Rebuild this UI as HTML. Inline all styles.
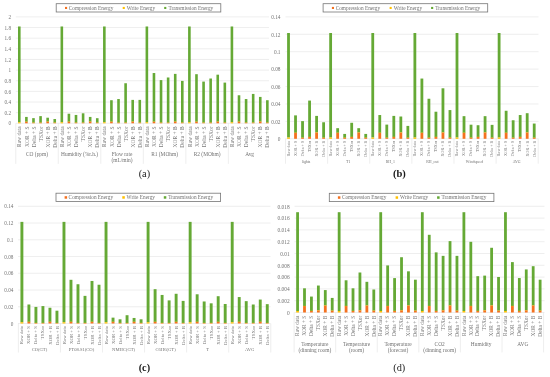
<!DOCTYPE html>
<html lang="en"><head><meta charset="utf-8"><title>Energy charts</title>
<style>html,body{margin:0;padding:0;background:#fff}svg{display:block}text{font-family:"Liberation Serif", serif}</style></head><body>
<svg width="550" height="377" viewBox="0 0 550 377">
<rect width="550" height="377" fill="#fff"/>
<g style="filter:blur(0.3px)">
<defs>
<clipPath id="cla"><rect x="0" y="0" width="269" height="190"/></clipPath>
<clipPath id="clb"><rect x="269" y="0" width="281" height="190"/></clipPath>
<clipPath id="clc"><rect x="0" y="188" width="275" height="189"/></clipPath>
<clipPath id="cld"><rect x="273" y="188" width="277" height="189"/></clipPath>
</defs>
<g clip-path="url(#cla)">
<line x1="15.8" x2="271" y1="123.3" y2="123.3" stroke="#dfdfdf" stroke-width="0.55"/>
<text x="11" y="125.47" font-size="5.2" fill="#727272" text-anchor="end">0</text>
<line x1="15.8" x2="271" y1="112.66" y2="112.66" stroke="#dfdfdf" stroke-width="0.55"/>
<text x="11" y="114.83" font-size="5.2" fill="#727272" text-anchor="end">0.2</text>
<line x1="15.8" x2="271" y1="102.02" y2="102.02" stroke="#dfdfdf" stroke-width="0.55"/>
<text x="11" y="104.19" font-size="5.2" fill="#727272" text-anchor="end">0.4</text>
<line x1="15.8" x2="271" y1="91.38" y2="91.38" stroke="#dfdfdf" stroke-width="0.55"/>
<text x="11" y="93.55" font-size="5.2" fill="#727272" text-anchor="end">0.6</text>
<line x1="15.8" x2="271" y1="80.74" y2="80.74" stroke="#dfdfdf" stroke-width="0.55"/>
<text x="11" y="82.91" font-size="5.2" fill="#727272" text-anchor="end">0.8</text>
<line x1="15.8" x2="271" y1="70.1" y2="70.1" stroke="#dfdfdf" stroke-width="0.55"/>
<text x="11" y="72.27" font-size="5.2" fill="#727272" text-anchor="end">1</text>
<line x1="15.8" x2="271" y1="59.46" y2="59.46" stroke="#dfdfdf" stroke-width="0.55"/>
<text x="11" y="61.63" font-size="5.2" fill="#727272" text-anchor="end">1.2</text>
<line x1="15.8" x2="271" y1="48.82" y2="48.82" stroke="#dfdfdf" stroke-width="0.55"/>
<text x="11" y="50.99" font-size="5.2" fill="#727272" text-anchor="end">1.4</text>
<line x1="15.8" x2="271" y1="38.18" y2="38.18" stroke="#dfdfdf" stroke-width="0.55"/>
<text x="11" y="40.35" font-size="5.2" fill="#727272" text-anchor="end">1.6</text>
<line x1="15.8" x2="271" y1="27.54" y2="27.54" stroke="#dfdfdf" stroke-width="0.55"/>
<text x="11" y="29.71" font-size="5.2" fill="#727272" text-anchor="end">1.8</text>
<line x1="15.8" x2="271" y1="16.9" y2="16.9" stroke="#dfdfdf" stroke-width="0.55"/>
<text x="11" y="19.07" font-size="5.2" fill="#727272" text-anchor="end">2</text>
<line x1="15.76" x2="15.76" y1="123.3" y2="163.8" stroke="#dfdfdf" stroke-width="0.55"/>
<line x1="58.28" x2="58.28" y1="123.3" y2="163.8" stroke="#dfdfdf" stroke-width="0.55"/>
<line x1="100.8" x2="100.8" y1="123.3" y2="163.8" stroke="#dfdfdf" stroke-width="0.55"/>
<line x1="143.33" x2="143.33" y1="123.3" y2="163.8" stroke="#dfdfdf" stroke-width="0.55"/>
<line x1="185.85" x2="185.85" y1="123.3" y2="163.8" stroke="#dfdfdf" stroke-width="0.55"/>
<line x1="228.37" x2="228.37" y1="123.3" y2="163.8" stroke="#dfdfdf" stroke-width="0.55"/>
<line x1="270.89" x2="270.89" y1="123.3" y2="163.8" stroke="#dfdfdf" stroke-width="0.55"/>
<rect x="18" y="26.48" width="2.6" height="95.76" fill="#65a935"/>
<rect x="18" y="122.24" width="2.6" height="1.06" fill="#ffc000"/>
<text transform="translate(21.41 126.4) rotate(-90)" font-size="5.5" fill="#7b7b7b" text-anchor="end">Raw data</text>
<rect x="25.09" y="116.92" width="2.6" height="4.89" fill="#65a935"/>
<rect x="25.09" y="121.81" width="2.6" height="1.49" fill="#f4711f"/>
<rect x="25.09" y="121.66" width="2.6" height="0.3" fill="#ffc000"/>
<text transform="translate(28.5 126.4) rotate(-90)" font-size="5.5" fill="#7b7b7b" text-anchor="end">XOR + S</text>
<rect x="32.18" y="118.14" width="2.6" height="4.63" fill="#65a935"/>
<rect x="32.18" y="122.77" width="2.6" height="0.53" fill="#f4711f"/>
<rect x="32.18" y="122.62" width="2.6" height="0.3" fill="#ffc000"/>
<text transform="translate(35.59 126.4) rotate(-90)" font-size="5.5" fill="#7b7b7b" text-anchor="end">Delta + S</text>
<rect x="39.26" y="116.12" width="2.6" height="6.65" fill="#65a935"/>
<rect x="39.26" y="122.77" width="2.6" height="0.53" fill="#f4711f"/>
<rect x="39.26" y="122.62" width="2.6" height="0.3" fill="#ffc000"/>
<text transform="translate(42.67 126.4) rotate(-90)" font-size="5.5" fill="#7b7b7b" text-anchor="end">TSXor</text>
<rect x="46.35" y="117.71" width="2.6" height="3.99" fill="#65a935"/>
<rect x="46.35" y="121.7" width="2.6" height="1.6" fill="#f4711f"/>
<rect x="46.35" y="121.55" width="2.6" height="0.3" fill="#ffc000"/>
<text transform="translate(49.76 126.4) rotate(-90)" font-size="5.5" fill="#7b7b7b" text-anchor="end">XOR + B</text>
<rect x="53.44" y="119.04" width="2.6" height="3.72" fill="#65a935"/>
<rect x="53.44" y="122.77" width="2.6" height="0.53" fill="#f4711f"/>
<rect x="53.44" y="122.62" width="2.6" height="0.3" fill="#ffc000"/>
<text transform="translate(56.85 126.4) rotate(-90)" font-size="5.5" fill="#7b7b7b" text-anchor="end">Delta + B</text>
<text x="37.02" y="155.72" font-size="5.4" fill="#727272" text-anchor="middle">CO (ppm)</text>
<rect x="60.53" y="26.48" width="2.6" height="95.76" fill="#65a935"/>
<rect x="60.53" y="122.24" width="2.6" height="1.06" fill="#ffc000"/>
<text transform="translate(63.94 126.4) rotate(-90)" font-size="5.5" fill="#7b7b7b" text-anchor="end">Raw data</text>
<rect x="67.61" y="113.72" width="2.6" height="8.09" fill="#65a935"/>
<rect x="67.61" y="121.81" width="2.6" height="1.49" fill="#f4711f"/>
<rect x="67.61" y="121.66" width="2.6" height="0.3" fill="#ffc000"/>
<text transform="translate(71.02 126.4) rotate(-90)" font-size="5.5" fill="#7b7b7b" text-anchor="end">XOR + S</text>
<rect x="74.7" y="114.95" width="2.6" height="7.82" fill="#65a935"/>
<rect x="74.7" y="122.77" width="2.6" height="0.53" fill="#f4711f"/>
<rect x="74.7" y="122.62" width="2.6" height="0.3" fill="#ffc000"/>
<text transform="translate(78.11 126.4) rotate(-90)" font-size="5.5" fill="#7b7b7b" text-anchor="end">Delta + S</text>
<rect x="81.79" y="113.3" width="2.6" height="9.47" fill="#65a935"/>
<rect x="81.79" y="122.77" width="2.6" height="0.53" fill="#f4711f"/>
<rect x="81.79" y="122.62" width="2.6" height="0.3" fill="#ffc000"/>
<text transform="translate(85.2 126.4) rotate(-90)" font-size="5.5" fill="#7b7b7b" text-anchor="end">TSXor</text>
<rect x="88.87" y="116.92" width="2.6" height="4.79" fill="#65a935"/>
<rect x="88.87" y="121.7" width="2.6" height="1.6" fill="#f4711f"/>
<rect x="88.87" y="121.55" width="2.6" height="0.3" fill="#ffc000"/>
<text transform="translate(92.28 126.4) rotate(-90)" font-size="5.5" fill="#7b7b7b" text-anchor="end">XOR + B</text>
<rect x="95.96" y="118.19" width="2.6" height="4.58" fill="#65a935"/>
<rect x="95.96" y="122.77" width="2.6" height="0.53" fill="#f4711f"/>
<rect x="95.96" y="122.62" width="2.6" height="0.3" fill="#ffc000"/>
<text transform="translate(99.37 126.4) rotate(-90)" font-size="5.5" fill="#7b7b7b" text-anchor="end">Delta + B</text>
<text x="79.54" y="155.72" font-size="5.4" fill="#727272" text-anchor="middle">Humidity (%r.h.)</text>
<rect x="103.05" y="26.48" width="2.6" height="95.76" fill="#65a935"/>
<rect x="103.05" y="122.24" width="2.6" height="1.06" fill="#ffc000"/>
<text transform="translate(106.46 126.4) rotate(-90)" font-size="5.5" fill="#7b7b7b" text-anchor="end">Raw data</text>
<rect x="110.13" y="100.21" width="2.6" height="21.6" fill="#65a935"/>
<rect x="110.13" y="121.81" width="2.6" height="1.49" fill="#f4711f"/>
<rect x="110.13" y="121.66" width="2.6" height="0.3" fill="#ffc000"/>
<text transform="translate(113.54 126.4) rotate(-90)" font-size="5.5" fill="#7b7b7b" text-anchor="end">XOR + S</text>
<rect x="117.22" y="99.04" width="2.6" height="23.73" fill="#65a935"/>
<rect x="117.22" y="122.77" width="2.6" height="0.53" fill="#f4711f"/>
<rect x="117.22" y="122.62" width="2.6" height="0.3" fill="#ffc000"/>
<text transform="translate(120.63 126.4) rotate(-90)" font-size="5.5" fill="#7b7b7b" text-anchor="end">Delta + S</text>
<rect x="124.31" y="83.24" width="2.6" height="39.53" fill="#65a935"/>
<rect x="124.31" y="122.77" width="2.6" height="0.53" fill="#f4711f"/>
<rect x="124.31" y="122.62" width="2.6" height="0.3" fill="#ffc000"/>
<text transform="translate(127.72 126.4) rotate(-90)" font-size="5.5" fill="#7b7b7b" text-anchor="end">TSXor</text>
<rect x="131.4" y="99.89" width="2.6" height="21.81" fill="#65a935"/>
<rect x="131.4" y="121.7" width="2.6" height="1.6" fill="#f4711f"/>
<rect x="131.4" y="121.55" width="2.6" height="0.3" fill="#ffc000"/>
<text transform="translate(134.81 126.4) rotate(-90)" font-size="5.5" fill="#7b7b7b" text-anchor="end">XOR + B</text>
<rect x="138.48" y="99.89" width="2.6" height="22.88" fill="#65a935"/>
<rect x="138.48" y="122.77" width="2.6" height="0.53" fill="#f4711f"/>
<rect x="138.48" y="122.62" width="2.6" height="0.3" fill="#ffc000"/>
<text transform="translate(141.89 126.4) rotate(-90)" font-size="5.5" fill="#7b7b7b" text-anchor="end">Delta + B</text>
<text x="122.06" y="155.72" font-size="5.4" fill="#727272" text-anchor="middle">Flow rate</text>
<text x="122.06" y="161.82" font-size="5.4" fill="#727272" text-anchor="middle">(mL/min)</text>
<rect x="145.57" y="26.48" width="2.6" height="95.76" fill="#65a935"/>
<rect x="145.57" y="122.24" width="2.6" height="1.06" fill="#ffc000"/>
<text transform="translate(148.98 126.4) rotate(-90)" font-size="5.5" fill="#7b7b7b" text-anchor="end">Raw data</text>
<rect x="152.66" y="73.03" width="2.6" height="48.78" fill="#65a935"/>
<rect x="152.66" y="121.81" width="2.6" height="1.49" fill="#f4711f"/>
<rect x="152.66" y="121.66" width="2.6" height="0.3" fill="#ffc000"/>
<text transform="translate(156.07 126.4) rotate(-90)" font-size="5.5" fill="#7b7b7b" text-anchor="end">XOR + S</text>
<rect x="159.74" y="80.1" width="2.6" height="42.67" fill="#65a935"/>
<rect x="159.74" y="122.77" width="2.6" height="0.53" fill="#f4711f"/>
<rect x="159.74" y="122.62" width="2.6" height="0.3" fill="#ffc000"/>
<text transform="translate(163.15 126.4) rotate(-90)" font-size="5.5" fill="#7b7b7b" text-anchor="end">Delta + S</text>
<rect x="166.83" y="77.49" width="2.6" height="45.27" fill="#65a935"/>
<rect x="166.83" y="122.77" width="2.6" height="0.53" fill="#f4711f"/>
<rect x="166.83" y="122.62" width="2.6" height="0.3" fill="#ffc000"/>
<text transform="translate(170.24 126.4) rotate(-90)" font-size="5.5" fill="#7b7b7b" text-anchor="end">TSXor</text>
<rect x="173.92" y="73.88" width="2.6" height="47.83" fill="#65a935"/>
<rect x="173.92" y="121.7" width="2.6" height="1.6" fill="#f4711f"/>
<rect x="173.92" y="121.55" width="2.6" height="0.3" fill="#ffc000"/>
<text transform="translate(177.33 126.4) rotate(-90)" font-size="5.5" fill="#7b7b7b" text-anchor="end">XOR + B</text>
<rect x="181" y="80.9" width="2.6" height="41.87" fill="#65a935"/>
<rect x="181" y="122.77" width="2.6" height="0.53" fill="#f4711f"/>
<rect x="181" y="122.62" width="2.6" height="0.3" fill="#ffc000"/>
<text transform="translate(184.41 126.4) rotate(-90)" font-size="5.5" fill="#7b7b7b" text-anchor="end">Delta + B</text>
<text x="164.59" y="155.72" font-size="5.4" fill="#727272" text-anchor="middle">R1 (MOhm)</text>
<rect x="188.09" y="26.48" width="2.6" height="95.76" fill="#65a935"/>
<rect x="188.09" y="122.24" width="2.6" height="1.06" fill="#ffc000"/>
<text transform="translate(191.5 126.4) rotate(-90)" font-size="5.5" fill="#7b7b7b" text-anchor="end">Raw data</text>
<rect x="195.18" y="74.2" width="2.6" height="47.61" fill="#65a935"/>
<rect x="195.18" y="121.81" width="2.6" height="1.49" fill="#f4711f"/>
<rect x="195.18" y="121.66" width="2.6" height="0.3" fill="#ffc000"/>
<text transform="translate(198.59 126.4) rotate(-90)" font-size="5.5" fill="#7b7b7b" text-anchor="end">XOR + S</text>
<rect x="202.27" y="81.59" width="2.6" height="41.18" fill="#65a935"/>
<rect x="202.27" y="122.77" width="2.6" height="0.53" fill="#f4711f"/>
<rect x="202.27" y="122.62" width="2.6" height="0.3" fill="#ffc000"/>
<text transform="translate(205.68 126.4) rotate(-90)" font-size="5.5" fill="#7b7b7b" text-anchor="end">Delta + S</text>
<rect x="209.35" y="78.51" width="2.6" height="44.26" fill="#65a935"/>
<rect x="209.35" y="122.77" width="2.6" height="0.53" fill="#f4711f"/>
<rect x="209.35" y="122.62" width="2.6" height="0.3" fill="#ffc000"/>
<text transform="translate(212.76 126.4) rotate(-90)" font-size="5.5" fill="#7b7b7b" text-anchor="end">TSXor</text>
<rect x="216.44" y="74.68" width="2.6" height="47.03" fill="#65a935"/>
<rect x="216.44" y="121.7" width="2.6" height="1.6" fill="#f4711f"/>
<rect x="216.44" y="121.55" width="2.6" height="0.3" fill="#ffc000"/>
<text transform="translate(219.85 126.4) rotate(-90)" font-size="5.5" fill="#7b7b7b" text-anchor="end">XOR + B</text>
<rect x="223.53" y="82.6" width="2.6" height="40.17" fill="#65a935"/>
<rect x="223.53" y="122.77" width="2.6" height="0.53" fill="#f4711f"/>
<rect x="223.53" y="122.62" width="2.6" height="0.3" fill="#ffc000"/>
<text transform="translate(226.94 126.4) rotate(-90)" font-size="5.5" fill="#7b7b7b" text-anchor="end">Delta + B</text>
<text x="207.11" y="155.72" font-size="5.4" fill="#727272" text-anchor="middle">R2 (MOhm)</text>
<rect x="230.61" y="26.48" width="2.6" height="95.76" fill="#65a935"/>
<rect x="230.61" y="122.24" width="2.6" height="1.06" fill="#ffc000"/>
<text transform="translate(234.02 126.4) rotate(-90)" font-size="5.5" fill="#7b7b7b" text-anchor="end">Raw data</text>
<rect x="237.7" y="95.26" width="2.6" height="26.55" fill="#65a935"/>
<rect x="237.7" y="121.81" width="2.6" height="1.49" fill="#f4711f"/>
<rect x="237.7" y="121.66" width="2.6" height="0.3" fill="#ffc000"/>
<text transform="translate(241.11 126.4) rotate(-90)" font-size="5.5" fill="#7b7b7b" text-anchor="end">XOR + S</text>
<rect x="244.79" y="99.04" width="2.6" height="23.73" fill="#65a935"/>
<rect x="244.79" y="122.77" width="2.6" height="0.53" fill="#f4711f"/>
<rect x="244.79" y="122.62" width="2.6" height="0.3" fill="#ffc000"/>
<text transform="translate(248.2 126.4) rotate(-90)" font-size="5.5" fill="#7b7b7b" text-anchor="end">Delta + S</text>
<rect x="251.87" y="93.93" width="2.6" height="28.83" fill="#65a935"/>
<rect x="251.87" y="122.77" width="2.6" height="0.53" fill="#f4711f"/>
<rect x="251.87" y="122.62" width="2.6" height="0.3" fill="#ffc000"/>
<text transform="translate(255.28 126.4) rotate(-90)" font-size="5.5" fill="#7b7b7b" text-anchor="end">TSXor</text>
<rect x="258.96" y="96.91" width="2.6" height="24.79" fill="#65a935"/>
<rect x="258.96" y="121.7" width="2.6" height="1.6" fill="#f4711f"/>
<rect x="258.96" y="121.55" width="2.6" height="0.3" fill="#ffc000"/>
<text transform="translate(262.37 126.4) rotate(-90)" font-size="5.5" fill="#7b7b7b" text-anchor="end">XOR + B</text>
<rect x="266.05" y="100.21" width="2.6" height="22.56" fill="#65a935"/>
<rect x="266.05" y="122.77" width="2.6" height="0.53" fill="#f4711f"/>
<rect x="266.05" y="122.62" width="2.6" height="0.3" fill="#ffc000"/>
<text transform="translate(269.46 126.4) rotate(-90)" font-size="5.5" fill="#7b7b7b" text-anchor="end">Delta + B</text>
<text x="249.63" y="155.72" font-size="5.4" fill="#727272" text-anchor="middle">Avg</text>
</g>
<rect x="56.2" y="3.7" width="164.6" height="8.3" fill="#fff" stroke="#767676" stroke-width="0.8"/>
<rect x="65" y="6.9" width="2.1" height="2.1" fill="#f4711f"/>
<text x="68.8" y="9.7" font-size="5.3" fill="#727272">Compression Energy</text>
<rect x="122.7" y="6.9" width="2.1" height="2.1" fill="#ffc000"/>
<text x="126.8" y="9.7" font-size="5.3" fill="#727272">Write Energy</text>
<rect x="164.2" y="6.9" width="2.1" height="2.1" fill="#65a935"/>
<text x="168.4" y="9.7" font-size="5.3" fill="#727272">Transmission Energy</text>
<text x="144.4" y="176.9" font-size="10.3" fill="#1a1a1a" text-anchor="middle">(a)</text>
<g clip-path="url(#clb)">
<rect x="269" y="0" width="281" height="190" fill="#fff"/>
<line x1="285.5" x2="538.5" y1="138.8" y2="138.8" stroke="#dfdfdf" stroke-width="0.55"/>
<text x="280.5" y="141" font-size="5.3" fill="#727272" text-anchor="end">0</text>
<line x1="285.5" x2="538.5" y1="121.39" y2="121.39" stroke="#dfdfdf" stroke-width="0.55"/>
<text x="280.5" y="123.58" font-size="5.3" fill="#727272" text-anchor="end">0.02</text>
<line x1="285.5" x2="538.5" y1="103.97" y2="103.97" stroke="#dfdfdf" stroke-width="0.55"/>
<text x="280.5" y="106.17" font-size="5.3" fill="#727272" text-anchor="end">0.04</text>
<line x1="285.5" x2="538.5" y1="86.56" y2="86.56" stroke="#dfdfdf" stroke-width="0.55"/>
<text x="280.5" y="88.76" font-size="5.3" fill="#727272" text-anchor="end">0.06</text>
<line x1="285.5" x2="538.5" y1="69.14" y2="69.14" stroke="#dfdfdf" stroke-width="0.55"/>
<text x="280.5" y="71.34" font-size="5.3" fill="#727272" text-anchor="end">0.08</text>
<line x1="285.5" x2="538.5" y1="51.73" y2="51.73" stroke="#dfdfdf" stroke-width="0.55"/>
<text x="280.5" y="53.93" font-size="5.3" fill="#727272" text-anchor="end">0.1</text>
<line x1="285.5" x2="538.5" y1="34.31" y2="34.31" stroke="#dfdfdf" stroke-width="0.55"/>
<text x="280.5" y="36.51" font-size="5.3" fill="#727272" text-anchor="end">0.12</text>
<line x1="285.5" x2="538.5" y1="16.9" y2="16.9" stroke="#dfdfdf" stroke-width="0.55"/>
<text x="280.5" y="19.1" font-size="5.3" fill="#727272" text-anchor="end">0.14</text>
<line x1="285.5" x2="285.5" y1="138.8" y2="163.7" stroke="#dfdfdf" stroke-width="0.55"/>
<line x1="327.62" x2="327.62" y1="138.8" y2="163.7" stroke="#dfdfdf" stroke-width="0.55"/>
<line x1="369.74" x2="369.74" y1="138.8" y2="163.7" stroke="#dfdfdf" stroke-width="0.55"/>
<line x1="411.86" x2="411.86" y1="138.8" y2="163.7" stroke="#dfdfdf" stroke-width="0.55"/>
<line x1="453.98" x2="453.98" y1="138.8" y2="163.7" stroke="#dfdfdf" stroke-width="0.55"/>
<line x1="496.1" x2="496.1" y1="138.8" y2="163.7" stroke="#dfdfdf" stroke-width="0.55"/>
<line x1="538.22" x2="538.22" y1="138.8" y2="163.7" stroke="#dfdfdf" stroke-width="0.55"/>
<rect x="287.11" y="33.01" width="2.8" height="104.49" fill="#65a935"/>
<rect x="287.11" y="137.49" width="2.8" height="1.31" fill="#ffc000"/>
<text transform="translate(289.82 140.8) rotate(-90)" font-size="4.1" fill="#7b7b7b" text-anchor="end">Raw data</text>
<rect x="294.13" y="115.38" width="2.8" height="17.5" fill="#65a935"/>
<rect x="294.13" y="132.88" width="2.8" height="5.92" fill="#f4711f"/>
<rect x="294.13" y="132.73" width="2.8" height="0.3" fill="#ffc000"/>
<text transform="translate(296.84 140.8) rotate(-90)" font-size="4.1" fill="#7b7b7b" text-anchor="end">XOR + S</text>
<rect x="301.15" y="121.12" width="2.8" height="16.72" fill="#65a935"/>
<rect x="301.15" y="137.84" width="2.8" height="0.96" fill="#f4711f"/>
<rect x="301.15" y="137.69" width="2.8" height="0.3" fill="#ffc000"/>
<text transform="translate(303.86 140.8) rotate(-90)" font-size="4.1" fill="#7b7b7b" text-anchor="end">Delta + S</text>
<rect x="308.17" y="100.58" width="2.8" height="36.4" fill="#65a935"/>
<rect x="308.17" y="136.97" width="2.8" height="1.83" fill="#f4711f"/>
<rect x="308.17" y="136.82" width="2.8" height="0.3" fill="#ffc000"/>
<text transform="translate(310.88 140.8) rotate(-90)" font-size="4.1" fill="#7b7b7b" text-anchor="end">TSXor</text>
<rect x="315.19" y="115.9" width="2.8" height="16.63" fill="#65a935"/>
<rect x="315.19" y="132.53" width="2.8" height="6.27" fill="#f4711f"/>
<rect x="315.19" y="132.38" width="2.8" height="0.3" fill="#ffc000"/>
<text transform="translate(317.9 140.8) rotate(-90)" font-size="4.1" fill="#7b7b7b" text-anchor="end">XOR + B</text>
<rect x="322.21" y="122.26" width="2.8" height="15.59" fill="#65a935"/>
<rect x="322.21" y="137.84" width="2.8" height="0.96" fill="#f4711f"/>
<rect x="322.21" y="137.69" width="2.8" height="0.3" fill="#ffc000"/>
<text transform="translate(324.92 140.8) rotate(-90)" font-size="4.1" fill="#7b7b7b" text-anchor="end">Delta + B</text>
<text x="306.06" y="162.57" font-size="3.9" fill="#727272" text-anchor="middle">lights</text>
<rect x="329.23" y="33.01" width="2.8" height="104.49" fill="#65a935"/>
<rect x="329.23" y="137.49" width="2.8" height="1.31" fill="#ffc000"/>
<text transform="translate(331.94 140.8) rotate(-90)" font-size="4.1" fill="#7b7b7b" text-anchor="end">Raw data</text>
<rect x="336.25" y="128.18" width="2.8" height="4.7" fill="#65a935"/>
<rect x="336.25" y="132.88" width="2.8" height="5.92" fill="#f4711f"/>
<rect x="336.25" y="132.73" width="2.8" height="0.3" fill="#ffc000"/>
<text transform="translate(338.96 140.8) rotate(-90)" font-size="4.1" fill="#7b7b7b" text-anchor="end">XOR + S</text>
<rect x="343.27" y="133.92" width="2.8" height="3.92" fill="#65a935"/>
<rect x="343.27" y="137.84" width="2.8" height="0.96" fill="#f4711f"/>
<rect x="343.27" y="137.69" width="2.8" height="0.3" fill="#ffc000"/>
<text transform="translate(345.98 140.8) rotate(-90)" font-size="4.1" fill="#7b7b7b" text-anchor="end">Delta + S</text>
<rect x="350.29" y="122.78" width="2.8" height="14.19" fill="#65a935"/>
<rect x="350.29" y="136.97" width="2.8" height="1.83" fill="#f4711f"/>
<rect x="350.29" y="136.82" width="2.8" height="0.3" fill="#ffc000"/>
<text transform="translate(353 140.8) rotate(-90)" font-size="4.1" fill="#7b7b7b" text-anchor="end">TSXor</text>
<rect x="357.31" y="128.18" width="2.8" height="4.35" fill="#65a935"/>
<rect x="357.31" y="132.53" width="2.8" height="6.27" fill="#f4711f"/>
<rect x="357.31" y="132.38" width="2.8" height="0.3" fill="#ffc000"/>
<text transform="translate(360.02 140.8) rotate(-90)" font-size="4.1" fill="#7b7b7b" text-anchor="end">XOR + B</text>
<rect x="364.33" y="133.92" width="2.8" height="3.92" fill="#65a935"/>
<rect x="364.33" y="137.84" width="2.8" height="0.96" fill="#f4711f"/>
<rect x="364.33" y="137.69" width="2.8" height="0.3" fill="#ffc000"/>
<text transform="translate(367.04 140.8) rotate(-90)" font-size="4.1" fill="#7b7b7b" text-anchor="end">Delta + B</text>
<text x="348.18" y="162.57" font-size="3.9" fill="#727272" text-anchor="middle">T1</text>
<rect x="371.35" y="33.01" width="2.8" height="104.49" fill="#65a935"/>
<rect x="371.35" y="137.49" width="2.8" height="1.31" fill="#ffc000"/>
<text transform="translate(374.06 140.8) rotate(-90)" font-size="4.1" fill="#7b7b7b" text-anchor="end">Raw data</text>
<rect x="378.37" y="115.03" width="2.8" height="17.85" fill="#65a935"/>
<rect x="378.37" y="132.88" width="2.8" height="5.92" fill="#f4711f"/>
<rect x="378.37" y="132.73" width="2.8" height="0.3" fill="#ffc000"/>
<text transform="translate(381.08 140.8) rotate(-90)" font-size="4.1" fill="#7b7b7b" text-anchor="end">XOR + S</text>
<rect x="385.39" y="124.61" width="2.8" height="13.23" fill="#65a935"/>
<rect x="385.39" y="137.84" width="2.8" height="0.96" fill="#f4711f"/>
<rect x="385.39" y="137.69" width="2.8" height="0.3" fill="#ffc000"/>
<text transform="translate(388.1 140.8) rotate(-90)" font-size="4.1" fill="#7b7b7b" text-anchor="end">Delta + S</text>
<rect x="392.41" y="115.9" width="2.8" height="21.07" fill="#65a935"/>
<rect x="392.41" y="136.97" width="2.8" height="1.83" fill="#f4711f"/>
<rect x="392.41" y="136.82" width="2.8" height="0.3" fill="#ffc000"/>
<text transform="translate(395.12 140.8) rotate(-90)" font-size="4.1" fill="#7b7b7b" text-anchor="end">TSXor</text>
<rect x="399.43" y="116.51" width="2.8" height="16.02" fill="#65a935"/>
<rect x="399.43" y="132.53" width="2.8" height="6.27" fill="#f4711f"/>
<rect x="399.43" y="132.38" width="2.8" height="0.3" fill="#ffc000"/>
<text transform="translate(402.14 140.8) rotate(-90)" font-size="4.1" fill="#7b7b7b" text-anchor="end">XOR + B</text>
<rect x="406.45" y="125.91" width="2.8" height="11.93" fill="#65a935"/>
<rect x="406.45" y="137.84" width="2.8" height="0.96" fill="#f4711f"/>
<rect x="406.45" y="137.69" width="2.8" height="0.3" fill="#ffc000"/>
<text transform="translate(409.16 140.8) rotate(-90)" font-size="4.1" fill="#7b7b7b" text-anchor="end">Delta + B</text>
<text x="390.3" y="162.57" font-size="3.9" fill="#727272" text-anchor="middle">RH_1</text>
<rect x="413.47" y="33.01" width="2.8" height="104.49" fill="#65a935"/>
<rect x="413.47" y="137.49" width="2.8" height="1.31" fill="#ffc000"/>
<text transform="translate(416.18 140.8) rotate(-90)" font-size="4.1" fill="#7b7b7b" text-anchor="end">Raw data</text>
<rect x="420.49" y="78.55" width="2.8" height="54.33" fill="#65a935"/>
<rect x="420.49" y="132.88" width="2.8" height="5.92" fill="#f4711f"/>
<rect x="420.49" y="132.73" width="2.8" height="0.3" fill="#ffc000"/>
<text transform="translate(423.2 140.8) rotate(-90)" font-size="4.1" fill="#7b7b7b" text-anchor="end">XOR + S</text>
<rect x="427.51" y="98.75" width="2.8" height="39.1" fill="#65a935"/>
<rect x="427.51" y="137.84" width="2.8" height="0.96" fill="#f4711f"/>
<rect x="427.51" y="137.69" width="2.8" height="0.3" fill="#ffc000"/>
<text transform="translate(430.22 140.8) rotate(-90)" font-size="4.1" fill="#7b7b7b" text-anchor="end">Delta + S</text>
<rect x="434.53" y="111.72" width="2.8" height="25.25" fill="#65a935"/>
<rect x="434.53" y="136.97" width="2.8" height="1.83" fill="#f4711f"/>
<rect x="434.53" y="136.82" width="2.8" height="0.3" fill="#ffc000"/>
<text transform="translate(437.24 140.8) rotate(-90)" font-size="4.1" fill="#7b7b7b" text-anchor="end">TSXor</text>
<rect x="441.55" y="88.3" width="2.8" height="44.23" fill="#65a935"/>
<rect x="441.55" y="132.53" width="2.8" height="6.27" fill="#f4711f"/>
<rect x="441.55" y="132.38" width="2.8" height="0.3" fill="#ffc000"/>
<text transform="translate(444.26 140.8) rotate(-90)" font-size="4.1" fill="#7b7b7b" text-anchor="end">XOR + B</text>
<rect x="448.57" y="110.07" width="2.8" height="27.78" fill="#65a935"/>
<rect x="448.57" y="137.84" width="2.8" height="0.96" fill="#f4711f"/>
<rect x="448.57" y="137.69" width="2.8" height="0.3" fill="#ffc000"/>
<text transform="translate(451.28 140.8) rotate(-90)" font-size="4.1" fill="#7b7b7b" text-anchor="end">Delta + B</text>
<text x="432.42" y="162.57" font-size="3.9" fill="#727272" text-anchor="middle">RH_out</text>
<rect x="455.59" y="33.01" width="2.8" height="104.49" fill="#65a935"/>
<rect x="455.59" y="137.49" width="2.8" height="1.31" fill="#ffc000"/>
<text transform="translate(458.3 140.8) rotate(-90)" font-size="4.1" fill="#7b7b7b" text-anchor="end">Raw data</text>
<rect x="462.61" y="116.16" width="2.8" height="16.72" fill="#65a935"/>
<rect x="462.61" y="132.88" width="2.8" height="5.92" fill="#f4711f"/>
<rect x="462.61" y="132.73" width="2.8" height="0.3" fill="#ffc000"/>
<text transform="translate(465.32 140.8) rotate(-90)" font-size="4.1" fill="#7b7b7b" text-anchor="end">XOR + S</text>
<rect x="469.63" y="124.69" width="2.8" height="13.15" fill="#65a935"/>
<rect x="469.63" y="137.84" width="2.8" height="0.96" fill="#f4711f"/>
<rect x="469.63" y="137.69" width="2.8" height="0.3" fill="#ffc000"/>
<text transform="translate(472.34 140.8) rotate(-90)" font-size="4.1" fill="#7b7b7b" text-anchor="end">Delta + S</text>
<rect x="476.65" y="125.22" width="2.8" height="11.75" fill="#65a935"/>
<rect x="476.65" y="136.97" width="2.8" height="1.83" fill="#f4711f"/>
<rect x="476.65" y="136.82" width="2.8" height="0.3" fill="#ffc000"/>
<text transform="translate(479.36 140.8) rotate(-90)" font-size="4.1" fill="#7b7b7b" text-anchor="end">TSXor</text>
<rect x="483.67" y="116.16" width="2.8" height="16.37" fill="#65a935"/>
<rect x="483.67" y="132.53" width="2.8" height="6.27" fill="#f4711f"/>
<rect x="483.67" y="132.38" width="2.8" height="0.3" fill="#ffc000"/>
<text transform="translate(486.38 140.8) rotate(-90)" font-size="4.1" fill="#7b7b7b" text-anchor="end">XOR + B</text>
<rect x="490.69" y="124.87" width="2.8" height="12.97" fill="#65a935"/>
<rect x="490.69" y="137.84" width="2.8" height="0.96" fill="#f4711f"/>
<rect x="490.69" y="137.69" width="2.8" height="0.3" fill="#ffc000"/>
<text transform="translate(493.4 140.8) rotate(-90)" font-size="4.1" fill="#7b7b7b" text-anchor="end">Delta + B</text>
<text x="474.54" y="162.57" font-size="3.9" fill="#727272" text-anchor="middle">Windspeed</text>
<rect x="497.71" y="33.01" width="2.8" height="104.49" fill="#65a935"/>
<rect x="497.71" y="137.49" width="2.8" height="1.31" fill="#ffc000"/>
<text transform="translate(500.42 140.8) rotate(-90)" font-size="4.1" fill="#7b7b7b" text-anchor="end">Raw data</text>
<rect x="504.73" y="110.76" width="2.8" height="22.12" fill="#65a935"/>
<rect x="504.73" y="132.88" width="2.8" height="5.92" fill="#f4711f"/>
<rect x="504.73" y="132.73" width="2.8" height="0.3" fill="#ffc000"/>
<text transform="translate(507.44 140.8) rotate(-90)" font-size="4.1" fill="#7b7b7b" text-anchor="end">XOR + S</text>
<rect x="511.75" y="120.25" width="2.8" height="17.59" fill="#65a935"/>
<rect x="511.75" y="137.84" width="2.8" height="0.96" fill="#f4711f"/>
<rect x="511.75" y="137.69" width="2.8" height="0.3" fill="#ffc000"/>
<text transform="translate(514.46 140.8) rotate(-90)" font-size="4.1" fill="#7b7b7b" text-anchor="end">Delta + S</text>
<rect x="518.77" y="115.03" width="2.8" height="21.94" fill="#65a935"/>
<rect x="518.77" y="136.97" width="2.8" height="1.83" fill="#f4711f"/>
<rect x="518.77" y="136.82" width="2.8" height="0.3" fill="#ffc000"/>
<text transform="translate(521.48 140.8) rotate(-90)" font-size="4.1" fill="#7b7b7b" text-anchor="end">TSXor</text>
<rect x="525.79" y="113.2" width="2.8" height="19.33" fill="#65a935"/>
<rect x="525.79" y="132.53" width="2.8" height="6.27" fill="#f4711f"/>
<rect x="525.79" y="132.38" width="2.8" height="0.3" fill="#ffc000"/>
<text transform="translate(528.5 140.8) rotate(-90)" font-size="4.1" fill="#7b7b7b" text-anchor="end">XOR + B</text>
<rect x="532.81" y="123.56" width="2.8" height="14.28" fill="#65a935"/>
<rect x="532.81" y="137.84" width="2.8" height="0.96" fill="#f4711f"/>
<rect x="532.81" y="137.69" width="2.8" height="0.3" fill="#ffc000"/>
<text transform="translate(535.52 140.8) rotate(-90)" font-size="4.1" fill="#7b7b7b" text-anchor="end">Delta + B</text>
<text x="516.66" y="162.57" font-size="3.9" fill="#727272" text-anchor="middle">AVG</text>
</g>
<rect x="323.1" y="3.7" width="164.6" height="8.3" fill="#fff" stroke="#767676" stroke-width="0.8"/>
<rect x="331.9" y="6.9" width="2.1" height="2.1" fill="#f4711f"/>
<text x="335.7" y="9.7" font-size="5.3" fill="#727272">Compression Energy</text>
<rect x="389.6" y="6.9" width="2.1" height="2.1" fill="#ffc000"/>
<text x="393.7" y="9.7" font-size="5.3" fill="#727272">Write Energy</text>
<rect x="431.1" y="6.9" width="2.1" height="2.1" fill="#65a935"/>
<text x="435.3" y="9.7" font-size="5.3" fill="#727272">Transmission Energy</text>
<text x="399.4" y="177.1" font-size="10.5" fill="#1a1a1a" text-anchor="middle" font-weight="bold">(b)</text>
<g clip-path="url(#clc)">
<line x1="18" x2="270.5" y1="323.5" y2="323.5" stroke="#dfdfdf" stroke-width="0.55"/>
<text x="13.4" y="325.67" font-size="5.2" fill="#727272" text-anchor="end">0</text>
<line x1="18" x2="270.5" y1="306.76" y2="306.76" stroke="#dfdfdf" stroke-width="0.55"/>
<text x="13.4" y="308.92" font-size="5.2" fill="#727272" text-anchor="end">0.02</text>
<line x1="18" x2="270.5" y1="290.01" y2="290.01" stroke="#dfdfdf" stroke-width="0.55"/>
<text x="13.4" y="292.18" font-size="5.2" fill="#727272" text-anchor="end">0.04</text>
<line x1="18" x2="270.5" y1="273.27" y2="273.27" stroke="#dfdfdf" stroke-width="0.55"/>
<text x="13.4" y="275.44" font-size="5.2" fill="#727272" text-anchor="end">0.06</text>
<line x1="18" x2="270.5" y1="256.53" y2="256.53" stroke="#dfdfdf" stroke-width="0.55"/>
<text x="13.4" y="258.69" font-size="5.2" fill="#727272" text-anchor="end">0.08</text>
<line x1="18" x2="270.5" y1="239.79" y2="239.79" stroke="#dfdfdf" stroke-width="0.55"/>
<text x="13.4" y="241.95" font-size="5.2" fill="#727272" text-anchor="end">0.1</text>
<line x1="18" x2="270.5" y1="223.04" y2="223.04" stroke="#dfdfdf" stroke-width="0.55"/>
<text x="13.4" y="225.21" font-size="5.2" fill="#727272" text-anchor="end">0.12</text>
<line x1="18" x2="270.5" y1="206.3" y2="206.3" stroke="#dfdfdf" stroke-width="0.55"/>
<text x="13.4" y="208.47" font-size="5.2" fill="#727272" text-anchor="end">0.14</text>
<line x1="18.4" x2="18.4" y1="323.5" y2="352.5" stroke="#dfdfdf" stroke-width="0.55"/>
<line x1="60.46" x2="60.46" y1="323.5" y2="352.5" stroke="#dfdfdf" stroke-width="0.55"/>
<line x1="102.52" x2="102.52" y1="323.5" y2="352.5" stroke="#dfdfdf" stroke-width="0.55"/>
<line x1="144.58" x2="144.58" y1="323.5" y2="352.5" stroke="#dfdfdf" stroke-width="0.55"/>
<line x1="186.64" x2="186.64" y1="323.5" y2="352.5" stroke="#dfdfdf" stroke-width="0.55"/>
<line x1="228.7" x2="228.7" y1="323.5" y2="352.5" stroke="#dfdfdf" stroke-width="0.55"/>
<line x1="270.76" x2="270.76" y1="323.5" y2="352.5" stroke="#dfdfdf" stroke-width="0.55"/>
<rect x="20.45" y="221.87" width="2.9" height="100.37" fill="#65a935"/>
<rect x="20.45" y="322.24" width="2.9" height="1.26" fill="#ffc000"/>
<text transform="translate(23.46 326) rotate(-90)" font-size="4.85" fill="#7b7b7b" text-anchor="end">Raw data</text>
<rect x="27.46" y="304.5" width="2.9" height="17.41" fill="#65a935"/>
<rect x="27.46" y="321.91" width="2.9" height="1.59" fill="#f4711f"/>
<rect x="27.46" y="321.76" width="2.9" height="0.3" fill="#ffc000"/>
<text transform="translate(30.47 326) rotate(-90)" font-size="4.85" fill="#7b7b7b" text-anchor="end">XOR + S</text>
<rect x="34.47" y="306.92" width="2.9" height="16.07" fill="#65a935"/>
<rect x="34.47" y="323" width="2.9" height="0.5" fill="#f4711f"/>
<rect x="34.47" y="322.85" width="2.9" height="0.3" fill="#ffc000"/>
<text transform="translate(37.48 326) rotate(-90)" font-size="4.85" fill="#7b7b7b" text-anchor="end">Delta + S</text>
<rect x="41.48" y="306.09" width="2.9" height="16.91" fill="#65a935"/>
<rect x="41.48" y="323" width="2.9" height="0.5" fill="#f4711f"/>
<rect x="41.48" y="322.85" width="2.9" height="0.3" fill="#ffc000"/>
<text transform="translate(44.49 326) rotate(-90)" font-size="4.85" fill="#7b7b7b" text-anchor="end">TSXor</text>
<rect x="48.49" y="307.76" width="2.9" height="14.15" fill="#65a935"/>
<rect x="48.49" y="321.91" width="2.9" height="1.59" fill="#f4711f"/>
<rect x="48.49" y="321.76" width="2.9" height="0.3" fill="#ffc000"/>
<text transform="translate(51.5 326) rotate(-90)" font-size="4.85" fill="#7b7b7b" text-anchor="end">XOR + B</text>
<rect x="55.5" y="310.69" width="2.9" height="12.31" fill="#65a935"/>
<rect x="55.5" y="323" width="2.9" height="0.5" fill="#f4711f"/>
<rect x="55.5" y="322.85" width="2.9" height="0.3" fill="#ffc000"/>
<text transform="translate(58.51 326) rotate(-90)" font-size="4.85" fill="#7b7b7b" text-anchor="end">Delta + B</text>
<text x="39.43" y="351.38" font-size="4.6" fill="#727272" text-anchor="middle">CO(GT)</text>
<rect x="62.52" y="221.87" width="2.9" height="100.37" fill="#65a935"/>
<rect x="62.52" y="322.24" width="2.9" height="1.26" fill="#ffc000"/>
<text transform="translate(65.52 326) rotate(-90)" font-size="4.85" fill="#7b7b7b" text-anchor="end">Raw data</text>
<rect x="69.52" y="279.8" width="2.9" height="42.11" fill="#65a935"/>
<rect x="69.52" y="321.91" width="2.9" height="1.59" fill="#f4711f"/>
<rect x="69.52" y="321.76" width="2.9" height="0.3" fill="#ffc000"/>
<text transform="translate(72.53 326) rotate(-90)" font-size="4.85" fill="#7b7b7b" text-anchor="end">XOR + S</text>
<rect x="76.53" y="284.24" width="2.9" height="38.76" fill="#65a935"/>
<rect x="76.53" y="323" width="2.9" height="0.5" fill="#f4711f"/>
<rect x="76.53" y="322.85" width="2.9" height="0.3" fill="#ffc000"/>
<text transform="translate(79.54 326) rotate(-90)" font-size="4.85" fill="#7b7b7b" text-anchor="end">Delta + S</text>
<rect x="83.55" y="295.87" width="2.9" height="27.12" fill="#65a935"/>
<rect x="83.55" y="323" width="2.9" height="0.5" fill="#f4711f"/>
<rect x="83.55" y="322.85" width="2.9" height="0.3" fill="#ffc000"/>
<text transform="translate(86.55 326) rotate(-90)" font-size="4.85" fill="#7b7b7b" text-anchor="end">TSXor</text>
<rect x="90.55" y="280.97" width="2.9" height="40.94" fill="#65a935"/>
<rect x="90.55" y="321.91" width="2.9" height="1.59" fill="#f4711f"/>
<rect x="90.55" y="321.76" width="2.9" height="0.3" fill="#ffc000"/>
<text transform="translate(93.56 326) rotate(-90)" font-size="4.85" fill="#7b7b7b" text-anchor="end">XOR + B</text>
<rect x="97.56" y="284.74" width="2.9" height="38.26" fill="#65a935"/>
<rect x="97.56" y="323" width="2.9" height="0.5" fill="#f4711f"/>
<rect x="97.56" y="322.85" width="2.9" height="0.3" fill="#ffc000"/>
<text transform="translate(100.57 326) rotate(-90)" font-size="4.85" fill="#7b7b7b" text-anchor="end">Delta + B</text>
<text x="81.49" y="351.38" font-size="4.6" fill="#727272" text-anchor="middle">PT08.S1(CO)</text>
<rect x="104.58" y="221.87" width="2.9" height="100.37" fill="#65a935"/>
<rect x="104.58" y="322.24" width="2.9" height="1.26" fill="#ffc000"/>
<text transform="translate(107.58 326) rotate(-90)" font-size="4.85" fill="#7b7b7b" text-anchor="end">Raw data</text>
<rect x="111.59" y="317.64" width="2.9" height="4.27" fill="#65a935"/>
<rect x="111.59" y="321.91" width="2.9" height="1.59" fill="#f4711f"/>
<rect x="111.59" y="321.76" width="2.9" height="0.3" fill="#ffc000"/>
<text transform="translate(114.59 326) rotate(-90)" font-size="4.85" fill="#7b7b7b" text-anchor="end">XOR + S</text>
<rect x="118.6" y="319.31" width="2.9" height="3.68" fill="#65a935"/>
<rect x="118.6" y="323" width="2.9" height="0.5" fill="#f4711f"/>
<rect x="118.6" y="322.85" width="2.9" height="0.3" fill="#ffc000"/>
<text transform="translate(121.6 326) rotate(-90)" font-size="4.85" fill="#7b7b7b" text-anchor="end">Delta + S</text>
<rect x="125.61" y="315.21" width="2.9" height="7.79" fill="#65a935"/>
<rect x="125.61" y="323" width="2.9" height="0.5" fill="#f4711f"/>
<rect x="125.61" y="322.85" width="2.9" height="0.3" fill="#ffc000"/>
<text transform="translate(128.61 326) rotate(-90)" font-size="4.85" fill="#7b7b7b" text-anchor="end">TSXor</text>
<rect x="132.62" y="317.97" width="2.9" height="3.93" fill="#65a935"/>
<rect x="132.62" y="321.91" width="2.9" height="1.59" fill="#f4711f"/>
<rect x="132.62" y="321.76" width="2.9" height="0.3" fill="#ffc000"/>
<text transform="translate(135.62 326) rotate(-90)" font-size="4.85" fill="#7b7b7b" text-anchor="end">XOR + B</text>
<rect x="139.63" y="319.31" width="2.9" height="3.68" fill="#65a935"/>
<rect x="139.63" y="323" width="2.9" height="0.5" fill="#f4711f"/>
<rect x="139.63" y="322.85" width="2.9" height="0.3" fill="#ffc000"/>
<text transform="translate(142.63 326) rotate(-90)" font-size="4.85" fill="#7b7b7b" text-anchor="end">Delta + B</text>
<text x="123.55" y="351.38" font-size="4.6" fill="#727272" text-anchor="middle">NMHC(GT)</text>
<rect x="146.64" y="221.87" width="2.9" height="100.37" fill="#65a935"/>
<rect x="146.64" y="322.24" width="2.9" height="1.26" fill="#ffc000"/>
<text transform="translate(149.64 326) rotate(-90)" font-size="4.85" fill="#7b7b7b" text-anchor="end">Raw data</text>
<rect x="153.65" y="289.18" width="2.9" height="32.73" fill="#65a935"/>
<rect x="153.65" y="321.91" width="2.9" height="1.59" fill="#f4711f"/>
<rect x="153.65" y="321.76" width="2.9" height="0.3" fill="#ffc000"/>
<text transform="translate(156.65 326) rotate(-90)" font-size="4.85" fill="#7b7b7b" text-anchor="end">XOR + S</text>
<rect x="160.66" y="294.95" width="2.9" height="28.04" fill="#65a935"/>
<rect x="160.66" y="323" width="2.9" height="0.5" fill="#f4711f"/>
<rect x="160.66" y="322.85" width="2.9" height="0.3" fill="#ffc000"/>
<text transform="translate(163.66 326) rotate(-90)" font-size="4.85" fill="#7b7b7b" text-anchor="end">Delta + S</text>
<rect x="167.67" y="300.39" width="2.9" height="22.6" fill="#65a935"/>
<rect x="167.67" y="323" width="2.9" height="0.5" fill="#f4711f"/>
<rect x="167.67" y="322.85" width="2.9" height="0.3" fill="#ffc000"/>
<text transform="translate(170.67 326) rotate(-90)" font-size="4.85" fill="#7b7b7b" text-anchor="end">TSXor</text>
<rect x="174.68" y="293.78" width="2.9" height="28.13" fill="#65a935"/>
<rect x="174.68" y="321.91" width="2.9" height="1.59" fill="#f4711f"/>
<rect x="174.68" y="321.76" width="2.9" height="0.3" fill="#ffc000"/>
<text transform="translate(177.68 326) rotate(-90)" font-size="4.85" fill="#7b7b7b" text-anchor="end">XOR + B</text>
<rect x="181.69" y="300.9" width="2.9" height="22.1" fill="#65a935"/>
<rect x="181.69" y="323" width="2.9" height="0.5" fill="#f4711f"/>
<rect x="181.69" y="322.85" width="2.9" height="0.3" fill="#ffc000"/>
<text transform="translate(184.69 326) rotate(-90)" font-size="4.85" fill="#7b7b7b" text-anchor="end">Delta + B</text>
<text x="165.61" y="351.38" font-size="4.6" fill="#727272" text-anchor="middle">C6H6(GT)</text>
<rect x="188.7" y="221.87" width="2.9" height="100.37" fill="#65a935"/>
<rect x="188.7" y="322.24" width="2.9" height="1.26" fill="#ffc000"/>
<text transform="translate(191.7 326) rotate(-90)" font-size="4.85" fill="#7b7b7b" text-anchor="end">Raw data</text>
<rect x="195.71" y="294.28" width="2.9" height="27.63" fill="#65a935"/>
<rect x="195.71" y="321.91" width="2.9" height="1.59" fill="#f4711f"/>
<rect x="195.71" y="321.76" width="2.9" height="0.3" fill="#ffc000"/>
<text transform="translate(198.71 326) rotate(-90)" font-size="4.85" fill="#7b7b7b" text-anchor="end">XOR + S</text>
<rect x="202.72" y="301.48" width="2.9" height="21.51" fill="#65a935"/>
<rect x="202.72" y="323" width="2.9" height="0.5" fill="#f4711f"/>
<rect x="202.72" y="322.85" width="2.9" height="0.3" fill="#ffc000"/>
<text transform="translate(205.72 326) rotate(-90)" font-size="4.85" fill="#7b7b7b" text-anchor="end">Delta + S</text>
<rect x="209.73" y="303.32" width="2.9" height="19.67" fill="#65a935"/>
<rect x="209.73" y="323" width="2.9" height="0.5" fill="#f4711f"/>
<rect x="209.73" y="322.85" width="2.9" height="0.3" fill="#ffc000"/>
<text transform="translate(212.73 326) rotate(-90)" font-size="4.85" fill="#7b7b7b" text-anchor="end">TSXor</text>
<rect x="216.74" y="296.21" width="2.9" height="25.7" fill="#65a935"/>
<rect x="216.74" y="321.91" width="2.9" height="1.59" fill="#f4711f"/>
<rect x="216.74" y="321.76" width="2.9" height="0.3" fill="#ffc000"/>
<text transform="translate(219.74 326) rotate(-90)" font-size="4.85" fill="#7b7b7b" text-anchor="end">XOR + B</text>
<rect x="223.75" y="303.99" width="2.9" height="19" fill="#65a935"/>
<rect x="223.75" y="323" width="2.9" height="0.5" fill="#f4711f"/>
<rect x="223.75" y="322.85" width="2.9" height="0.3" fill="#ffc000"/>
<text transform="translate(226.75 326) rotate(-90)" font-size="4.85" fill="#7b7b7b" text-anchor="end">Delta + B</text>
<text x="207.67" y="351.38" font-size="4.6" fill="#727272" text-anchor="middle">T</text>
<rect x="230.76" y="221.87" width="2.9" height="100.37" fill="#65a935"/>
<rect x="230.76" y="322.24" width="2.9" height="1.26" fill="#ffc000"/>
<text transform="translate(233.76 326) rotate(-90)" font-size="4.85" fill="#7b7b7b" text-anchor="end">Raw data</text>
<rect x="237.77" y="297.05" width="2.9" height="24.86" fill="#65a935"/>
<rect x="237.77" y="321.91" width="2.9" height="1.59" fill="#f4711f"/>
<rect x="237.77" y="321.76" width="2.9" height="0.3" fill="#ffc000"/>
<text transform="translate(240.77 326) rotate(-90)" font-size="4.85" fill="#7b7b7b" text-anchor="end">XOR + S</text>
<rect x="244.78" y="301.15" width="2.9" height="21.85" fill="#65a935"/>
<rect x="244.78" y="323" width="2.9" height="0.5" fill="#f4711f"/>
<rect x="244.78" y="322.85" width="2.9" height="0.3" fill="#ffc000"/>
<text transform="translate(247.78 326) rotate(-90)" font-size="4.85" fill="#7b7b7b" text-anchor="end">Delta + S</text>
<rect x="251.79" y="304.5" width="2.9" height="18.5" fill="#65a935"/>
<rect x="251.79" y="323" width="2.9" height="0.5" fill="#f4711f"/>
<rect x="251.79" y="322.85" width="2.9" height="0.3" fill="#ffc000"/>
<text transform="translate(254.79 326) rotate(-90)" font-size="4.85" fill="#7b7b7b" text-anchor="end">TSXor</text>
<rect x="258.8" y="299.56" width="2.9" height="22.35" fill="#65a935"/>
<rect x="258.8" y="321.91" width="2.9" height="1.59" fill="#f4711f"/>
<rect x="258.8" y="321.76" width="2.9" height="0.3" fill="#ffc000"/>
<text transform="translate(261.8 326) rotate(-90)" font-size="4.85" fill="#7b7b7b" text-anchor="end">XOR + B</text>
<rect x="265.81" y="304.16" width="2.9" height="18.84" fill="#65a935"/>
<rect x="265.81" y="323" width="2.9" height="0.5" fill="#f4711f"/>
<rect x="265.81" y="322.85" width="2.9" height="0.3" fill="#ffc000"/>
<text transform="translate(268.81 326) rotate(-90)" font-size="4.85" fill="#7b7b7b" text-anchor="end">Delta + B</text>
<text x="249.73" y="351.38" font-size="4.6" fill="#727272" text-anchor="middle">AVG</text>
</g>
<rect x="56" y="193.2" width="164.6" height="8.3" fill="#fff" stroke="#767676" stroke-width="0.8"/>
<rect x="64.6" y="196.2" width="2.5" height="2.5" fill="#f4711f"/>
<text x="68.6" y="199.2" font-size="5.3" fill="#727272">Compression Energy</text>
<rect x="122.3" y="196.2" width="2.5" height="2.5" fill="#ffc000"/>
<text x="126.6" y="199.2" font-size="5.3" fill="#727272">Write Energy</text>
<rect x="163.8" y="196.2" width="2.5" height="2.5" fill="#65a935"/>
<text x="168.2" y="199.2" font-size="5.3" fill="#727272">Transmission Energy</text>
<text x="144.4" y="370.5" font-size="10.3" fill="#1a1a1a" text-anchor="middle" font-weight="bold">(c)</text>
<g clip-path="url(#cld)">
<rect x="273" y="188" width="277" height="189" fill="#fff"/>
<line x1="294.5" x2="544.5" y1="312.5" y2="312.5" stroke="#dfdfdf" stroke-width="0.55"/>
<text x="289.7" y="314.73" font-size="5.4" fill="#727272" text-anchor="end">0</text>
<line x1="294.5" x2="544.5" y1="300.7" y2="300.7" stroke="#dfdfdf" stroke-width="0.55"/>
<text x="289.7" y="302.93" font-size="5.4" fill="#727272" text-anchor="end">0.002</text>
<line x1="294.5" x2="544.5" y1="288.9" y2="288.9" stroke="#dfdfdf" stroke-width="0.55"/>
<text x="289.7" y="291.13" font-size="5.4" fill="#727272" text-anchor="end">0.004</text>
<line x1="294.5" x2="544.5" y1="277.1" y2="277.1" stroke="#dfdfdf" stroke-width="0.55"/>
<text x="289.7" y="279.33" font-size="5.4" fill="#727272" text-anchor="end">0.006</text>
<line x1="294.5" x2="544.5" y1="265.3" y2="265.3" stroke="#dfdfdf" stroke-width="0.55"/>
<text x="289.7" y="267.53" font-size="5.4" fill="#727272" text-anchor="end">0.008</text>
<line x1="294.5" x2="544.5" y1="253.5" y2="253.5" stroke="#dfdfdf" stroke-width="0.55"/>
<text x="289.7" y="255.73" font-size="5.4" fill="#727272" text-anchor="end">0.01</text>
<line x1="294.5" x2="544.5" y1="241.7" y2="241.7" stroke="#dfdfdf" stroke-width="0.55"/>
<text x="289.7" y="243.93" font-size="5.4" fill="#727272" text-anchor="end">0.012</text>
<line x1="294.5" x2="544.5" y1="229.9" y2="229.9" stroke="#dfdfdf" stroke-width="0.55"/>
<text x="289.7" y="232.13" font-size="5.4" fill="#727272" text-anchor="end">0.014</text>
<line x1="294.5" x2="544.5" y1="218.1" y2="218.1" stroke="#dfdfdf" stroke-width="0.55"/>
<text x="289.7" y="220.33" font-size="5.4" fill="#727272" text-anchor="end">0.016</text>
<line x1="294.5" x2="544.5" y1="206.3" y2="206.3" stroke="#dfdfdf" stroke-width="0.55"/>
<text x="289.7" y="208.53" font-size="5.4" fill="#727272" text-anchor="end">0.018</text>
<line x1="294.1" x2="294.1" y1="312.5" y2="352.4" stroke="#dfdfdf" stroke-width="0.55"/>
<line x1="335.68" x2="335.68" y1="312.5" y2="352.4" stroke="#dfdfdf" stroke-width="0.55"/>
<line x1="377.26" x2="377.26" y1="312.5" y2="352.4" stroke="#dfdfdf" stroke-width="0.55"/>
<line x1="418.84" x2="418.84" y1="312.5" y2="352.4" stroke="#dfdfdf" stroke-width="0.55"/>
<line x1="460.42" x2="460.42" y1="312.5" y2="352.4" stroke="#dfdfdf" stroke-width="0.55"/>
<line x1="502" x2="502" y1="312.5" y2="352.4" stroke="#dfdfdf" stroke-width="0.55"/>
<line x1="543.58" x2="543.58" y1="312.5" y2="352.4" stroke="#dfdfdf" stroke-width="0.55"/>
<rect x="296.17" y="212.2" width="2.8" height="98.83" fill="#65a935"/>
<rect x="296.17" y="311.02" width="2.8" height="1.48" fill="#ffc000"/>
<text transform="translate(299.29 315.7) rotate(-90)" font-size="5.4" fill="#7b7b7b" text-anchor="end">Raw data</text>
<rect x="303.1" y="288.31" width="2.8" height="17.7" fill="#65a935"/>
<rect x="303.1" y="306.01" width="2.8" height="6.49" fill="#f4711f"/>
<rect x="303.1" y="305.86" width="2.8" height="0.3" fill="#ffc000"/>
<text transform="translate(306.22 315.7) rotate(-90)" font-size="5.4" fill="#7b7b7b" text-anchor="end">XOR + S</text>
<rect x="310.03" y="296.57" width="2.8" height="14.4" fill="#65a935"/>
<rect x="310.03" y="310.97" width="2.8" height="1.53" fill="#f4711f"/>
<rect x="310.03" y="310.82" width="2.8" height="0.3" fill="#ffc000"/>
<text transform="translate(313.15 315.7) rotate(-90)" font-size="5.4" fill="#7b7b7b" text-anchor="end">Delta + S</text>
<rect x="316.96" y="285.54" width="2.8" height="24.78" fill="#65a935"/>
<rect x="316.96" y="310.32" width="2.8" height="2.18" fill="#f4711f"/>
<rect x="316.96" y="310.17" width="2.8" height="0.3" fill="#ffc000"/>
<text transform="translate(320.08 315.7) rotate(-90)" font-size="5.4" fill="#7b7b7b" text-anchor="end">TSXor</text>
<rect x="323.89" y="290.08" width="2.8" height="15.46" fill="#65a935"/>
<rect x="323.89" y="305.54" width="2.8" height="6.96" fill="#f4711f"/>
<rect x="323.89" y="305.39" width="2.8" height="0.3" fill="#ffc000"/>
<text transform="translate(327.01 315.7) rotate(-90)" font-size="5.4" fill="#7b7b7b" text-anchor="end">XOR + B</text>
<rect x="330.82" y="297.93" width="2.8" height="12.8" fill="#65a935"/>
<rect x="330.82" y="310.73" width="2.8" height="1.77" fill="#f4711f"/>
<rect x="330.82" y="310.58" width="2.8" height="0.3" fill="#ffc000"/>
<text transform="translate(333.94 315.7) rotate(-90)" font-size="5.4" fill="#7b7b7b" text-anchor="end">Delta + B</text>
<text x="314.89" y="345.62" font-size="5.4" fill="#727272" text-anchor="middle">Temperature</text>
<text x="314.89" y="351.62" font-size="5.4" fill="#727272" text-anchor="middle">(dinning room)</text>
<rect x="337.75" y="212.2" width="2.8" height="98.83" fill="#65a935"/>
<rect x="337.75" y="311.02" width="2.8" height="1.48" fill="#ffc000"/>
<text transform="translate(340.87 315.7) rotate(-90)" font-size="5.4" fill="#7b7b7b" text-anchor="end">Raw data</text>
<rect x="344.68" y="280.29" width="2.8" height="25.72" fill="#65a935"/>
<rect x="344.68" y="306.01" width="2.8" height="6.49" fill="#f4711f"/>
<rect x="344.68" y="305.86" width="2.8" height="0.3" fill="#ffc000"/>
<text transform="translate(347.8 315.7) rotate(-90)" font-size="5.4" fill="#7b7b7b" text-anchor="end">XOR + S</text>
<rect x="351.61" y="288.31" width="2.8" height="22.66" fill="#65a935"/>
<rect x="351.61" y="310.97" width="2.8" height="1.53" fill="#f4711f"/>
<rect x="351.61" y="310.82" width="2.8" height="0.3" fill="#ffc000"/>
<text transform="translate(354.73 315.7) rotate(-90)" font-size="5.4" fill="#7b7b7b" text-anchor="end">Delta + S</text>
<rect x="358.54" y="272.5" width="2.8" height="37.82" fill="#65a935"/>
<rect x="358.54" y="310.32" width="2.8" height="2.18" fill="#f4711f"/>
<rect x="358.54" y="310.17" width="2.8" height="0.3" fill="#ffc000"/>
<text transform="translate(361.66 315.7) rotate(-90)" font-size="5.4" fill="#7b7b7b" text-anchor="end">TSXor</text>
<rect x="365.47" y="281.82" width="2.8" height="23.72" fill="#65a935"/>
<rect x="365.47" y="305.54" width="2.8" height="6.96" fill="#f4711f"/>
<rect x="365.47" y="305.39" width="2.8" height="0.3" fill="#ffc000"/>
<text transform="translate(368.59 315.7) rotate(-90)" font-size="5.4" fill="#7b7b7b" text-anchor="end">XOR + B</text>
<rect x="372.4" y="289.49" width="2.8" height="21.24" fill="#65a935"/>
<rect x="372.4" y="310.73" width="2.8" height="1.77" fill="#f4711f"/>
<rect x="372.4" y="310.58" width="2.8" height="0.3" fill="#ffc000"/>
<text transform="translate(375.52 315.7) rotate(-90)" font-size="5.4" fill="#7b7b7b" text-anchor="end">Delta + B</text>
<text x="356.47" y="345.62" font-size="5.4" fill="#727272" text-anchor="middle">Temperature</text>
<text x="356.47" y="351.62" font-size="5.4" fill="#727272" text-anchor="middle">(room)</text>
<rect x="379.32" y="212.2" width="2.8" height="98.83" fill="#65a935"/>
<rect x="379.32" y="311.02" width="2.8" height="1.48" fill="#ffc000"/>
<text transform="translate(382.45 315.7) rotate(-90)" font-size="5.4" fill="#7b7b7b" text-anchor="end">Raw data</text>
<rect x="386.25" y="265.42" width="2.8" height="40.59" fill="#65a935"/>
<rect x="386.25" y="306.01" width="2.8" height="6.49" fill="#f4711f"/>
<rect x="386.25" y="305.86" width="2.8" height="0.3" fill="#ffc000"/>
<text transform="translate(389.38 315.7) rotate(-90)" font-size="5.4" fill="#7b7b7b" text-anchor="end">XOR + S</text>
<rect x="393.19" y="278.1" width="2.8" height="32.86" fill="#65a935"/>
<rect x="393.19" y="310.97" width="2.8" height="1.53" fill="#f4711f"/>
<rect x="393.19" y="310.82" width="2.8" height="0.3" fill="#ffc000"/>
<text transform="translate(396.31 315.7) rotate(-90)" font-size="5.4" fill="#7b7b7b" text-anchor="end">Delta + S</text>
<rect x="400.12" y="257.22" width="2.8" height="53.1" fill="#65a935"/>
<rect x="400.12" y="310.32" width="2.8" height="2.18" fill="#f4711f"/>
<rect x="400.12" y="310.17" width="2.8" height="0.3" fill="#ffc000"/>
<text transform="translate(403.24 315.7) rotate(-90)" font-size="5.4" fill="#7b7b7b" text-anchor="end">TSXor</text>
<rect x="407.05" y="271.32" width="2.8" height="34.22" fill="#65a935"/>
<rect x="407.05" y="305.54" width="2.8" height="6.96" fill="#f4711f"/>
<rect x="407.05" y="305.39" width="2.8" height="0.3" fill="#ffc000"/>
<text transform="translate(410.17 315.7) rotate(-90)" font-size="5.4" fill="#7b7b7b" text-anchor="end">XOR + B</text>
<rect x="413.98" y="279.7" width="2.8" height="31.03" fill="#65a935"/>
<rect x="413.98" y="310.73" width="2.8" height="1.77" fill="#f4711f"/>
<rect x="413.98" y="310.58" width="2.8" height="0.3" fill="#ffc000"/>
<text transform="translate(417.1 315.7) rotate(-90)" font-size="5.4" fill="#7b7b7b" text-anchor="end">Delta + B</text>
<text x="398.05" y="345.62" font-size="5.4" fill="#727272" text-anchor="middle">Temperature</text>
<text x="398.05" y="351.62" font-size="5.4" fill="#727272" text-anchor="middle">(forecast)</text>
<rect x="420.91" y="212.2" width="2.8" height="98.83" fill="#65a935"/>
<rect x="420.91" y="311.02" width="2.8" height="1.48" fill="#ffc000"/>
<text transform="translate(424.03 315.7) rotate(-90)" font-size="5.4" fill="#7b7b7b" text-anchor="end">Raw data</text>
<rect x="427.84" y="234.8" width="2.8" height="71.21" fill="#65a935"/>
<rect x="427.84" y="306.01" width="2.8" height="6.49" fill="#f4711f"/>
<rect x="427.84" y="305.86" width="2.8" height="0.3" fill="#ffc000"/>
<text transform="translate(430.96 315.7) rotate(-90)" font-size="5.4" fill="#7b7b7b" text-anchor="end">XOR + S</text>
<rect x="434.77" y="252.38" width="2.8" height="58.59" fill="#65a935"/>
<rect x="434.77" y="310.97" width="2.8" height="1.53" fill="#f4711f"/>
<rect x="434.77" y="310.82" width="2.8" height="0.3" fill="#ffc000"/>
<text transform="translate(437.89 315.7) rotate(-90)" font-size="5.4" fill="#7b7b7b" text-anchor="end">Delta + S</text>
<rect x="441.7" y="255.86" width="2.8" height="54.46" fill="#65a935"/>
<rect x="441.7" y="310.32" width="2.8" height="2.18" fill="#f4711f"/>
<rect x="441.7" y="310.17" width="2.8" height="0.3" fill="#ffc000"/>
<text transform="translate(444.82 315.7) rotate(-90)" font-size="5.4" fill="#7b7b7b" text-anchor="end">TSXor</text>
<rect x="448.63" y="241.11" width="2.8" height="64.43" fill="#65a935"/>
<rect x="448.63" y="305.54" width="2.8" height="6.96" fill="#f4711f"/>
<rect x="448.63" y="305.39" width="2.8" height="0.3" fill="#ffc000"/>
<text transform="translate(451.75 315.7) rotate(-90)" font-size="5.4" fill="#7b7b7b" text-anchor="end">XOR + B</text>
<rect x="455.56" y="255.86" width="2.8" height="54.87" fill="#65a935"/>
<rect x="455.56" y="310.73" width="2.8" height="1.77" fill="#f4711f"/>
<rect x="455.56" y="310.58" width="2.8" height="0.3" fill="#ffc000"/>
<text transform="translate(458.68 315.7) rotate(-90)" font-size="5.4" fill="#7b7b7b" text-anchor="end">Delta + B</text>
<text x="439.63" y="345.62" font-size="5.4" fill="#727272" text-anchor="middle">CO2</text>
<text x="439.63" y="351.62" font-size="5.4" fill="#727272" text-anchor="middle">(dinning room)</text>
<rect x="462.49" y="212.2" width="2.8" height="98.83" fill="#65a935"/>
<rect x="462.49" y="311.02" width="2.8" height="1.48" fill="#ffc000"/>
<text transform="translate(465.61 315.7) rotate(-90)" font-size="5.4" fill="#7b7b7b" text-anchor="end">Raw data</text>
<rect x="469.42" y="241.82" width="2.8" height="64.19" fill="#65a935"/>
<rect x="469.42" y="306.01" width="2.8" height="6.49" fill="#f4711f"/>
<rect x="469.42" y="305.86" width="2.8" height="0.3" fill="#ffc000"/>
<text transform="translate(472.54 315.7) rotate(-90)" font-size="5.4" fill="#7b7b7b" text-anchor="end">XOR + S</text>
<rect x="476.35" y="276.16" width="2.8" height="34.81" fill="#65a935"/>
<rect x="476.35" y="310.97" width="2.8" height="1.53" fill="#f4711f"/>
<rect x="476.35" y="310.82" width="2.8" height="0.3" fill="#ffc000"/>
<text transform="translate(479.47 315.7) rotate(-90)" font-size="5.4" fill="#7b7b7b" text-anchor="end">Delta + S</text>
<rect x="483.28" y="275.62" width="2.8" height="34.69" fill="#65a935"/>
<rect x="483.28" y="310.32" width="2.8" height="2.18" fill="#f4711f"/>
<rect x="483.28" y="310.17" width="2.8" height="0.3" fill="#ffc000"/>
<text transform="translate(486.4 315.7) rotate(-90)" font-size="5.4" fill="#7b7b7b" text-anchor="end">TSXor</text>
<rect x="490.21" y="247.78" width="2.8" height="57.76" fill="#65a935"/>
<rect x="490.21" y="305.54" width="2.8" height="6.96" fill="#f4711f"/>
<rect x="490.21" y="305.39" width="2.8" height="0.3" fill="#ffc000"/>
<text transform="translate(493.33 315.7) rotate(-90)" font-size="5.4" fill="#7b7b7b" text-anchor="end">XOR + B</text>
<rect x="497.14" y="276.98" width="2.8" height="33.75" fill="#65a935"/>
<rect x="497.14" y="310.73" width="2.8" height="1.77" fill="#f4711f"/>
<rect x="497.14" y="310.58" width="2.8" height="0.3" fill="#ffc000"/>
<text transform="translate(500.26 315.7) rotate(-90)" font-size="5.4" fill="#7b7b7b" text-anchor="end">Delta + B</text>
<text x="481.21" y="345.62" font-size="5.4" fill="#727272" text-anchor="middle">Humidity</text>
<rect x="504.06" y="212.2" width="2.8" height="98.83" fill="#65a935"/>
<rect x="504.06" y="311.02" width="2.8" height="1.48" fill="#ffc000"/>
<text transform="translate(507.19 315.7) rotate(-90)" font-size="5.4" fill="#7b7b7b" text-anchor="end">Raw data</text>
<rect x="511" y="262.11" width="2.8" height="43.9" fill="#65a935"/>
<rect x="511" y="306.01" width="2.8" height="6.49" fill="#f4711f"/>
<rect x="511" y="305.86" width="2.8" height="0.3" fill="#ffc000"/>
<text transform="translate(514.12 315.7) rotate(-90)" font-size="5.4" fill="#7b7b7b" text-anchor="end">XOR + S</text>
<rect x="517.93" y="278.04" width="2.8" height="32.92" fill="#65a935"/>
<rect x="517.93" y="310.97" width="2.8" height="1.53" fill="#f4711f"/>
<rect x="517.93" y="310.82" width="2.8" height="0.3" fill="#ffc000"/>
<text transform="translate(521.05 315.7) rotate(-90)" font-size="5.4" fill="#7b7b7b" text-anchor="end">Delta + S</text>
<rect x="524.86" y="269.43" width="2.8" height="40.89" fill="#65a935"/>
<rect x="524.86" y="310.32" width="2.8" height="2.18" fill="#f4711f"/>
<rect x="524.86" y="310.17" width="2.8" height="0.3" fill="#ffc000"/>
<text transform="translate(527.98 315.7) rotate(-90)" font-size="5.4" fill="#7b7b7b" text-anchor="end">TSXor</text>
<rect x="531.78" y="266.19" width="2.8" height="39.35" fill="#65a935"/>
<rect x="531.78" y="305.54" width="2.8" height="6.96" fill="#f4711f"/>
<rect x="531.78" y="305.39" width="2.8" height="0.3" fill="#ffc000"/>
<text transform="translate(534.91 315.7) rotate(-90)" font-size="5.4" fill="#7b7b7b" text-anchor="end">XOR + B</text>
<rect x="538.72" y="279.7" width="2.8" height="31.03" fill="#65a935"/>
<rect x="538.72" y="310.73" width="2.8" height="1.77" fill="#f4711f"/>
<rect x="538.72" y="310.58" width="2.8" height="0.3" fill="#ffc000"/>
<text transform="translate(541.84 315.7) rotate(-90)" font-size="5.4" fill="#7b7b7b" text-anchor="end">Delta + B</text>
<text x="522.79" y="345.62" font-size="5.4" fill="#727272" text-anchor="middle">AVG</text>
</g>
<rect x="329.3" y="193.3" width="164.6" height="8.3" fill="#fff" stroke="#767676" stroke-width="0.8"/>
<rect x="337.9" y="196.3" width="2.5" height="2.5" fill="#f4711f"/>
<text x="341.9" y="199.3" font-size="5.3" fill="#727272">Compression Energy</text>
<rect x="395.6" y="196.3" width="2.5" height="2.5" fill="#ffc000"/>
<text x="399.9" y="199.3" font-size="5.3" fill="#727272">Write Energy</text>
<rect x="437.1" y="196.3" width="2.5" height="2.5" fill="#65a935"/>
<text x="441.5" y="199.3" font-size="5.3" fill="#727272">Transmission Energy</text>
<text x="399.3" y="370.5" font-size="10.3" fill="#1a1a1a" text-anchor="middle">(d)</text>
</g>
</svg></body></html>
